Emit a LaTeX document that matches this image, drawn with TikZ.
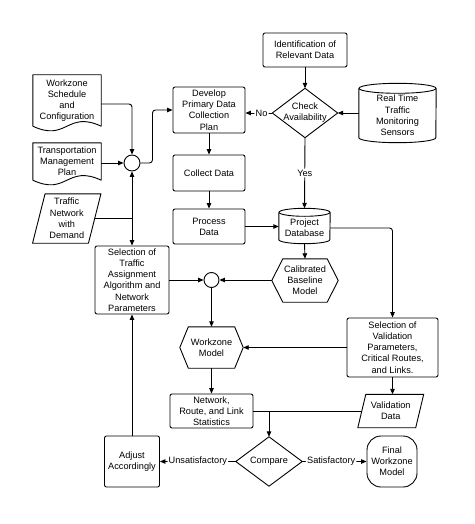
\documentclass[tikz,border=0pt]{standalone}
\usepackage{fontspec}
\setmainfont{Liberation Sans}
\usetikzlibrary{arrows.meta,calc}
\begin{document}
\begin{tikzpicture}[x=1pt,y=-1pt,
  every node/.style={font=\fontsize{9.2}{11.2}\selectfont, align=center, inner sep=0pt},
  area/.style 2 args={minimum width=#1pt, minimum height=#2pt},
  shp/.style={line width=0.9pt, draw=black, line join=round},
  rect/.style={shp, rectangle, rounded corners=2pt},
  junc/.style={shp, circle},
  conn/.style={line width=0.9pt, rounded corners=3pt},
  arr/.style={conn, -{Triangle[length=5.5pt,width=4.5pt]}},
  lbl/.style={fill=white, inner sep=1.2pt}]
\useasboundingbox (0,0) rectangle (474,524);

% ---------- nodes ----------
\node[area={68}{51}] (ws) at (67,100.5) {Workzone\\Schedule\\and\\Configuration};
\node[area={68}{37}] (tmp) at (67,161.5) {Transportation\\Management\\Plan};
\node[area={55.5}{49}] (tn) at (66.75,218.5) {Traffic\\Network\\with\\Demand};
\node[junc, minimum size=16pt] (j1) at (132,163) {};
\node[rect, area={72}{46}] (dev) at (209,110) {Develop\\Primary Data\\Collection\\Plan};
\node[rect, area={72}{36}] (cd) at (209,173) {Collect Data};
\node[rect, area={72}{35}] (pd) at (209,226.5) {Process\\Data};
\node[rect, area={84}{34}] (id) at (305,50) {Identification of\\Relevant Data};
\node[area={65}{49}] (ca) at (305,113) {Check\\Availability};
\node[area={77}{54}] (rt) at (397.5,115.5) {Real Time\\Traffic\\Monitoring\\Sensors};
\node[area={51}{31}] (db) at (304.5,228) {Project\\Database};
\node[rect, area={74}{68}] (sta) at (132,280) {Selection of\\Traffic\\Assignment\\Algorithm and\\Network\\Parameters};
\node[junc, minimum size=15pt] (j2) at (211.5,280) {};
\node[area={66}{43}] (cb) at (305,280.5) {Calibrated\\Baseline\\Model};
\node[area={63}{41}] (wm) at (211.5,347.5) {Workzone\\Model};
\node[rect, area={91}{59}] (svp) at (392.5,347.5) {Selection of\\Validation\\Parameters,\\Critical Routes,\\and Links.};
\node[rect, area={83}{34}] (ns) at (211.5,411) {Network,\\Route, and Link\\Statistics};
\node[area={57.5}{33}] (vd) at (390.75,411) {Validation\\Data};
\node[area={66}{49}] (cmp) at (269,461.5) {Compare};
\node[rect, area={55}{51}] (adj) at (132,461.5) {Adjust\\Accordingly};
\node[shp, rounded corners=14pt, area={50}{51}] (fwm) at (392,461.5) {Final\\Workzone\\Model};

% ---------- outlines ----------
\draw[shp] (ws.south west) -- (ws.north west) -- (ws.north east) -- (ws.south east)
  .. controls ($(ws.south)+(0,-16)$) and ($(ws.south)+(0,16)$) .. (ws.south west);
\draw[shp] (tmp.south west) -- (tmp.north west) -- (tmp.north east) -- (tmp.south east)
  .. controls ($(tmp.south)+(0,-16)$) and ($(tmp.south)+(0,16)$) .. (tmp.south west);
\draw[shp] ($(tn.north west)+(6.25,0)$) -- ($(tn.north east)+(6.25,0)$)
  -- ($(tn.south east)+(-6.25,0)$) -- ($(tn.south west)+(-6.25,0)$) -- cycle;
\draw[shp] (ca.north) -- (ca.east) -- (ca.south) -- (ca.west) -- cycle;
\draw[shp] (cmp.north) -- (cmp.east) -- (cmp.south) -- (cmp.west) -- cycle;
\draw[shp] (rt.north west) -- ($(rt.south west)+(0,-5)$)
  arc[start angle=180,end angle=360,x radius=38.5pt,y radius=5pt] -- (rt.north east);
\draw[shp] (rt.north) ellipse[x radius=38.5pt, y radius=5pt];
\draw[shp] (db.north west) -- ($(db.south west)+(0,-4)$)
  arc[start angle=180,end angle=360,x radius=25.5pt,y radius=4pt] -- (db.north east);
\draw[shp] (db.north) ellipse[x radius=25.5pt, y radius=4pt];
\draw[shp] (cb.west) -- ($(cb.north west)+(11,0)$) -- ($(cb.north east)+(-11,0)$) -- (cb.east)
  -- ($(cb.south east)+(-11,0)$) -- ($(cb.south west)+(11,0)$) -- cycle;
\draw[shp] (wm.west) -- ($(wm.north west)+(8.5,0)$) -- ($(wm.north east)+(-8.5,0)$) -- (wm.east)
  -- ($(wm.south east)+(-8.5,0)$) -- ($(wm.south west)+(8.5,0)$) -- cycle;
\draw[shp] ($(vd.north west)+(4,0)$) -- ($(vd.north east)+(4,0)$)
  -- ($(vd.south east)+(-4,0)$) -- ($(vd.south west)+(-4,0)$) -- cycle;

% ---------- connectors ----------
\draw[arr] ($(ws.east)+(0,3.5)$) -| (j1.north);
\draw[arr] (j1.west -| tmp.east) -- (j1.west);
\coordinate (jn) at (tn.east -| j1.south);
\draw[conn] (tn.east) -- (jn);
\draw[arr] (jn) -- (j1.south);
\draw[arr] (jn) -- (sta.north);
\draw[arr] (j1.east) -- ++(12,0) |- (dev.west);
\draw[arr] (dev.south) -- (cd.north);
\draw[arr] (cd.south) -- (pd.north);
\draw[arr] (id.south) -- (ca.north);
\draw[arr] (ca.west) -- node[lbl, pos=0.4]{No} (ca.west -| dev.east);
\draw[arr] (ca.east -| rt.west) -- (ca.east);
\draw[arr] (ca.south) -- node[lbl]{Yes} ($(db.north)+(0,-4)$);
\draw[arr] (pd.east) -- (pd.east -| db.west);
\draw[arr] (db.east) -| (svp.north);
\draw[arr] (db.south) -- (cb.north);
\draw[arr] (sta.east) -- (j2.west);
\draw[arr] (j2.east -| cb.west) -- (j2.east);
\draw[arr] (j2.south) -- (wm.north);
\draw[arr] (svp.west) -- (wm.east);
\draw[arr] (wm.south) -- (ns.north);
\draw[arr] (svp.south) -- (svp.south |- vd.north);
\coordinate (br) at (cmp.north |- ns.east);
\draw[conn] (vd.west) -- (ns.east);
\draw[arr] (br) -- (cmp.north);
\draw[arr] (cmp.west) -- node[lbl]{Unsatisfactory} (adj.east);
\draw[arr] (cmp.east) -- node[lbl, pos=0.45]{Satisfactory} (fwm.west);
\draw[arr] (adj.north) -- (sta.south);
\end{tikzpicture}
\end{document}
